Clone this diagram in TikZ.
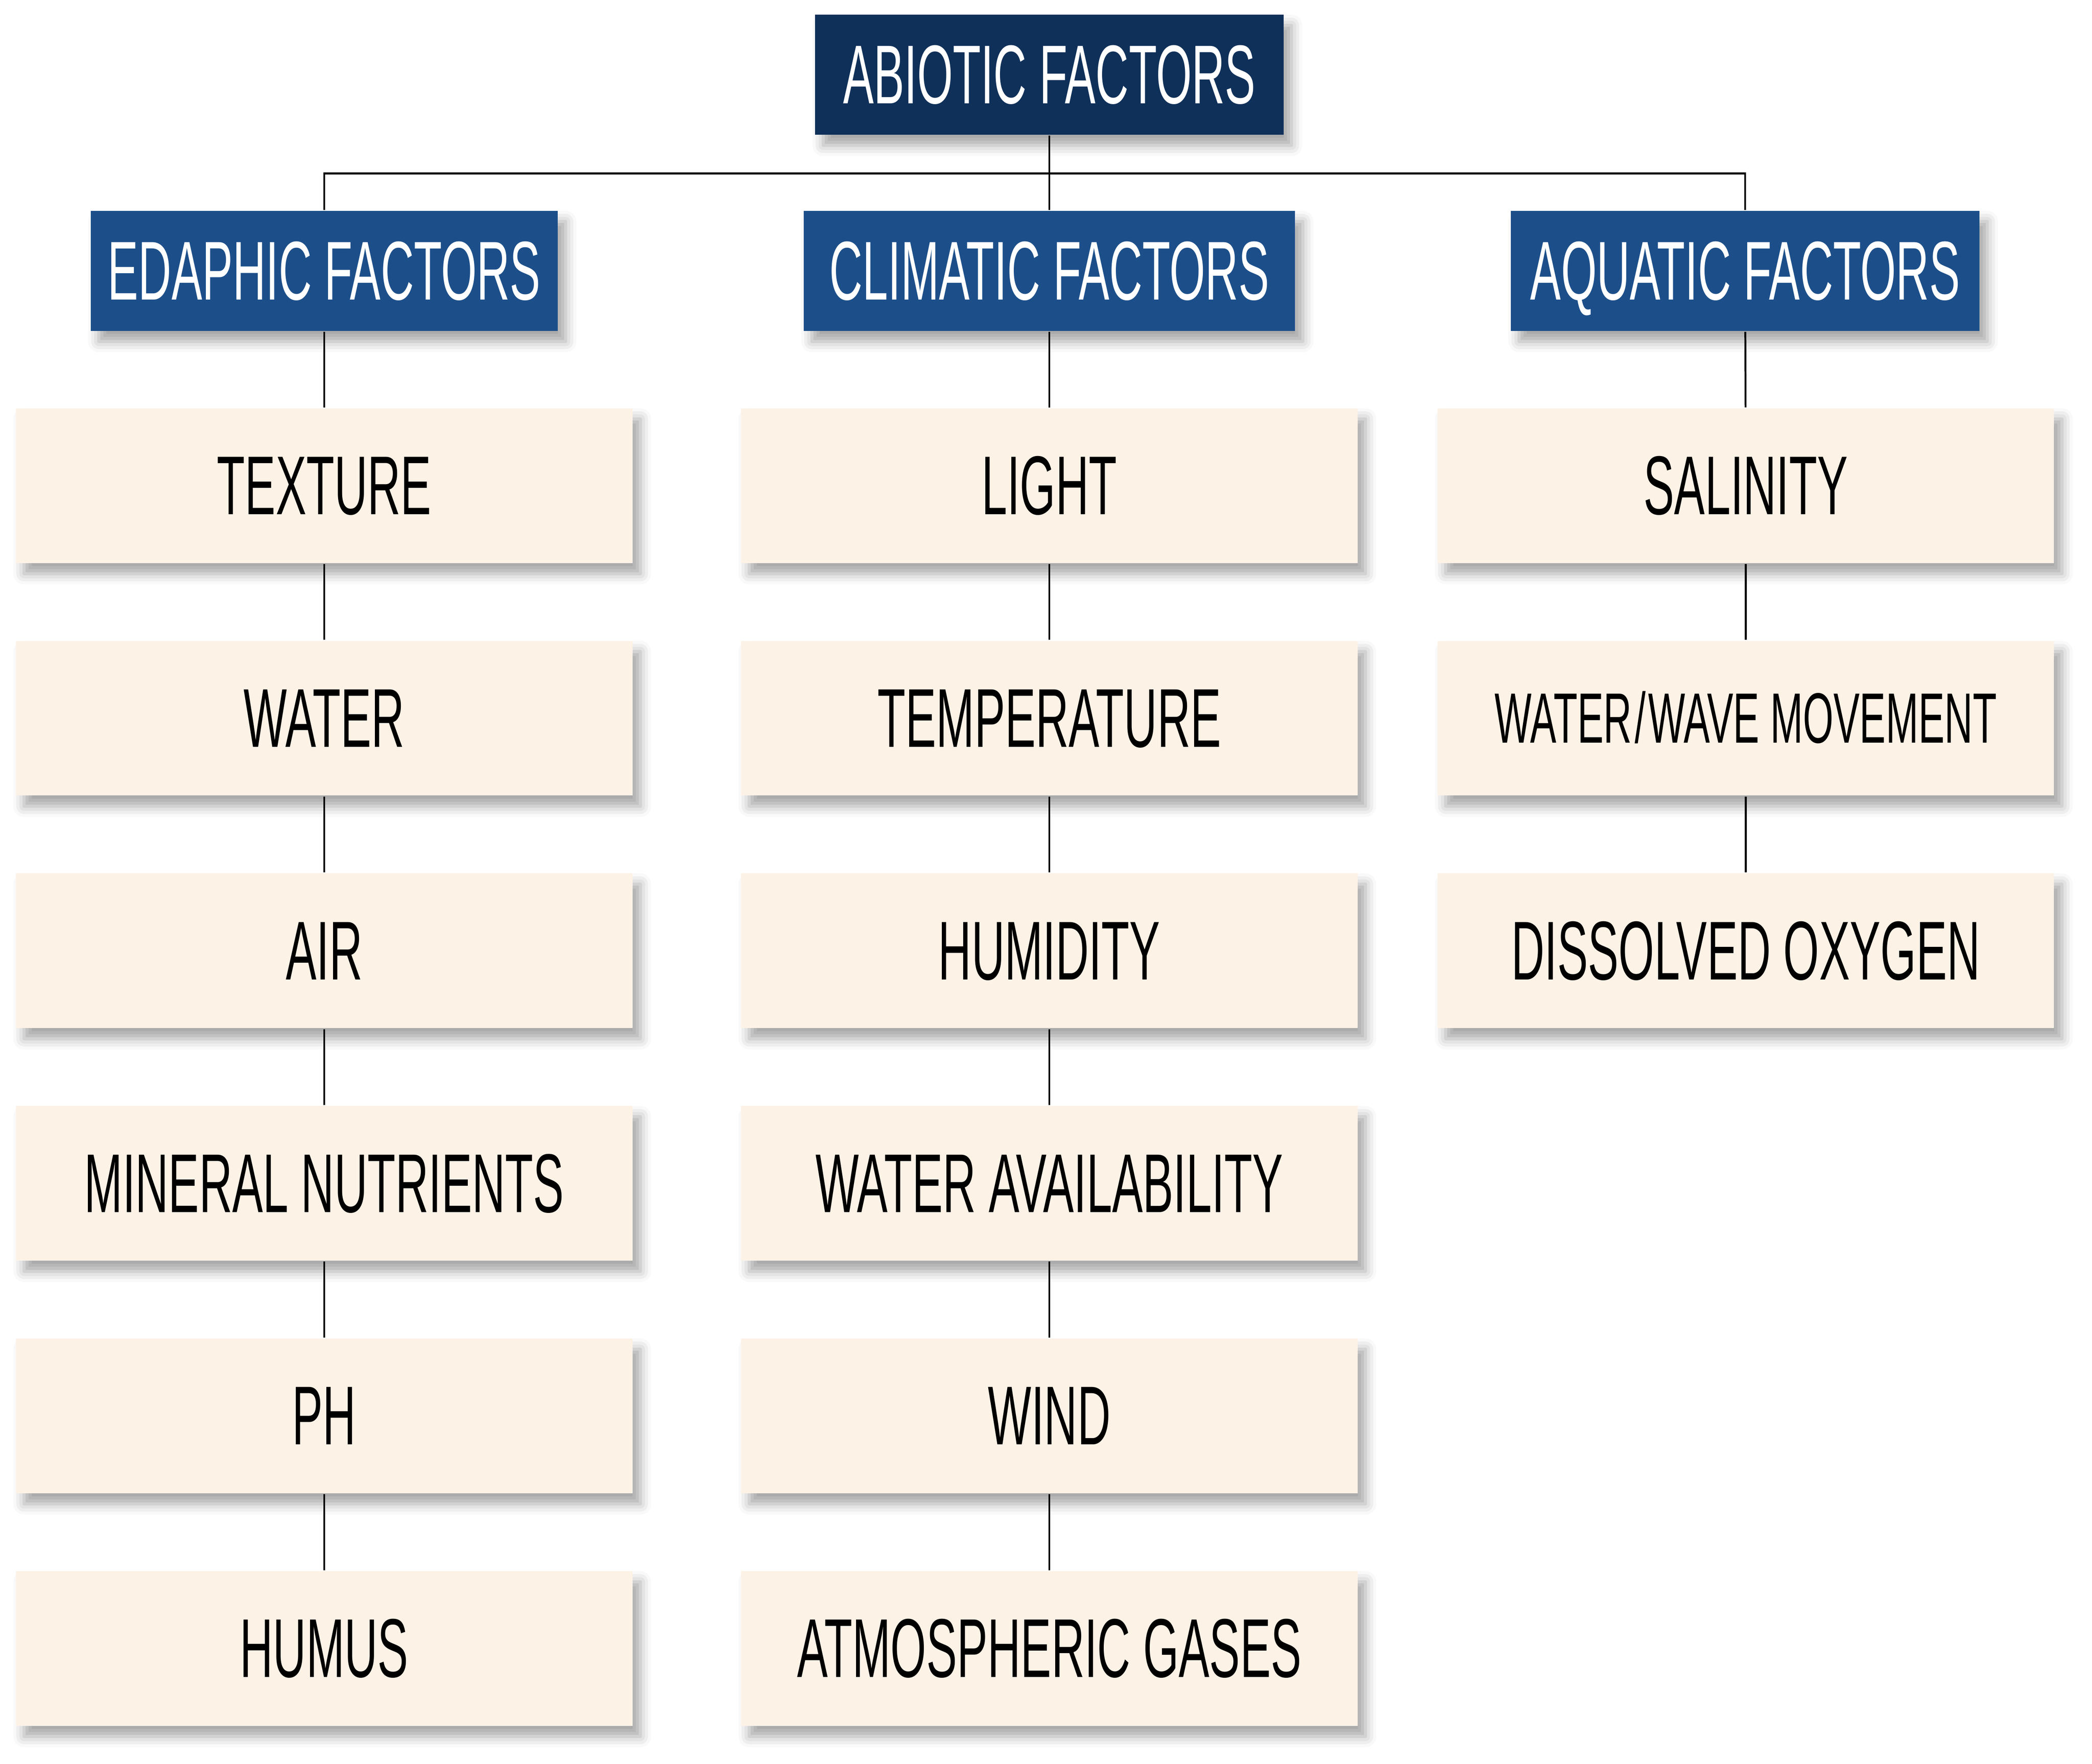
\documentclass[tikz,border=0pt]{standalone}
\usepackage{fontspec}
\setmainfont{Liberation Sans}[FakeStretch=0.55]
\usepackage{tikz}
\usetikzlibrary{shadows.blur}
\definecolor{navy}{HTML}{0F3059}
\definecolor{factorblue}{HTML}{1C4F8A}
\definecolor{cream}{HTML}{FDF2E6}

\begin{document}
\begin{tikzpicture}[
  head/.style = {fill=#1, text=white, minimum height=0.9cm, inner sep=0pt,
    text height=12.3pt, text depth=0pt,
    font=\fontsize{17.8}{20}\selectfont,
    blur shadow={shadow xshift=0.06cm, shadow yshift=-0.08cm, shadow blur radius=0.08cm, shadow opacity=35}},
  leaf/.style = {fill=cream, minimum width=4.62cm, minimum height=1.16cm, inner sep=0pt,
    text height=12.3pt, text depth=0pt,
    font=\fontsize{17.8}{20}\selectfont,
    blur shadow={shadow xshift=0.06cm, shadow yshift=-0.08cm, shadow blur radius=0.08cm, shadow opacity=35}},
  link/.style = {black, line width=0.4pt}
]
\useasboundingbox (0,0) rectangle (15.68,-13.22);

% main heading and the three groups
\node[head=navy, minimum width=3.51cm] (abiotic) at (7.865,-0.56) {ABIOTIC FACTORS};
\node[head=factorblue, minimum width=3.50cm] (edaphic) at (2.43,-2.03) {EDAPHIC FACTORS};
\node[head=factorblue, minimum width=3.68cm] (climatic) at (7.865,-2.03) {CLIMATIC FACTORS};
\node[head=factorblue, minimum width=3.51cm] (aquatic) at (13.08,-2.03) {AQUATIC FACTORS};

\coordinate (bar) at (7.865,-1.30);
\draw[link] (abiotic) -- (climatic);
\draw[link] (edaphic.north) |- (bar) -| (aquatic.north);

% edaphic column
\foreach \txt [count=\i] in {TEXTURE, WATER, AIR, MINERAL NUTRIENTS, PH, HUMUS}{
  \node[leaf] (ed\i) at (2.43,{-3.64-1.743*(\i-1)}) {\txt};
}
% climatic column
\foreach \txt [count=\i] in {LIGHT, TEMPERATURE, HUMIDITY, WATER AVAILABILITY, WIND, ATMOSPHERIC GASES}{
  \node[leaf] (cl\i) at (7.865,{-3.64-1.743*(\i-1)}) {\txt};
}
% aquatic column
\node[leaf] (aq1) at (13.085,-3.64) {SALINITY};
\node[leaf, font=\fontsize{15.2}{17}\selectfont, text height=10.5pt] (aq2) at (13.085,-5.383) {WATER\kern0.6pt/\kern0.6pt WAVE MOVEMENT};
\node[leaf] (aq3) at (13.085,-7.126) {DISSOLVED OXYGEN};

\draw[link] (edaphic) -- (ed1);
\draw[link] (climatic) -- (cl1);
\draw[link] (aquatic) -- (aq1);
\foreach \i [evaluate=\i as \j using int(\i+1)] in {1,...,5}{
  \draw[link] (ed\i) -- (ed\j);
  \draw[link] (cl\i) -- (cl\j);
}
\draw[link] (aq1) -- (aq2);
\draw[link] (aq2) -- (aq3);
\end{tikzpicture}
\end{document}
